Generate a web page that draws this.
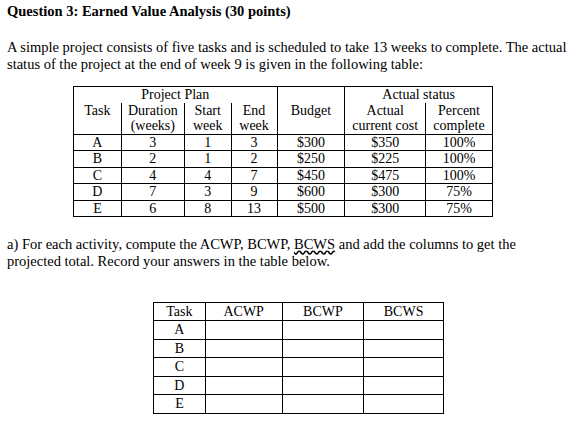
<!DOCTYPE html>
<html><head><meta charset="utf-8">
<script src="https://cdn.jsdelivr.net/npm/chart.js"></script>
<style>
body{margin:0;background:#fff;font-family:"Liberation Serif","Times New Roman",serif;font-size:14.5px;color:#000;width:584px;height:427px;overflow:hidden;position:relative}
.t{position:absolute;left:7px;white-space:nowrap}
table{position:absolute;border-collapse:collapse;font-size:14px;line-height:15px}
td{border:1px solid #000;text-align:center;padding:0;height:15.5px}
</style></head><body>
<div class="t" style="top:3px;font-weight:bold">Question 3: Earned Value Analysis (30 points)</div>
<div class="t" style="top:39px;line-height:17px">A simple project consists of five tasks and is scheduled to take 13 weeks to complete. The actual<br>status of the project at the end of week 9 is given in the following table:</div>
<table id="t1" style="left:73px;top:86px;width:420px"></table>
<div class="t" style="top:236px;line-height:17px">a) For each activity, compute the ACWP, BCWP, <u style="text-decoration-style:wavy">BCWS</u> and add the columns to get the<br>projected total. Record your answers in the table below.</div>
<table id="t2" style="left:153px;top:302px;width:291px"></table>
<script>
const tasks = ['A', 'B', 'C', 'D', 'E'];
const duration = [3, 2, 4, 7, 6];
const startWeek = [1, 1, 4, 3, 8];
const endWeek = [3, 2, 7, 9, 13];
const budget = [300, 250, 450, 600, 500];
const actualCost = [350, 225, 475, 300, 300];
const percentComplete = [100, 100, 100, 75, 75];

const w1 = [48, 63, 47, 46, 68, 81, 67];
let h = '<tr>' + w1.map(w => '<td style="width:' + w + 'px;border:none;height:0;padding:0"></td>').join('') + '</tr>';
h += '<tr><td colspan="4" style="border-bottom:none">Project Plan</td><td rowspan="3">Budget</td><td colspan="2" style="border-bottom:none">Actual status</td></tr>';
h += '<tr><td rowspan="2" style="vertical-align:top;border-top:none">Task</td><td style="border-bottom:none;border-top:none">Duration</td><td style="border-bottom:none;border-top:none">Start</td><td style="border-bottom:none;border-top:none">End</td><td style="border-bottom:none;border-top:none">Actual</td><td style="border-bottom:none;border-top:none">Percent</td></tr>';
h += '<tr><td style="border-top:none">(weeks)</td><td style="border-top:none">week</td><td style="border-top:none">week</td><td style="border-top:none">current cost</td><td style="border-top:none">complete</td></tr>';
tasks.forEach((t, i) => {
  h += '<tr><td>' + t + '</td><td>' + duration[i] + '</td><td>' + startWeek[i] + '</td><td>' + endWeek[i] + '</td><td>$' + budget[i] + '</td><td>$' + actualCost[i] + '</td><td>' + percentComplete[i] + '%</td></tr>';
});
document.getElementById('t1').innerHTML = h;

const w2 = [52, 77, 82, 80];
let h2 = '<tr>' + w2.map(w => '<td style="width:' + w + 'px;border:none;height:0"></td>').join('') + '</tr>';
h2 += '<tr><td style="height:17px">Task</td><td>ACWP</td><td>BCWP</td><td>BCWS</td></tr>';
tasks.forEach(t => { h2 += '<tr><td style="height:17.5px">' + t + '</td><td></td><td></td><td></td></tr>'; });
document.getElementById('t2').innerHTML = h2;
</script>
</body></html>
